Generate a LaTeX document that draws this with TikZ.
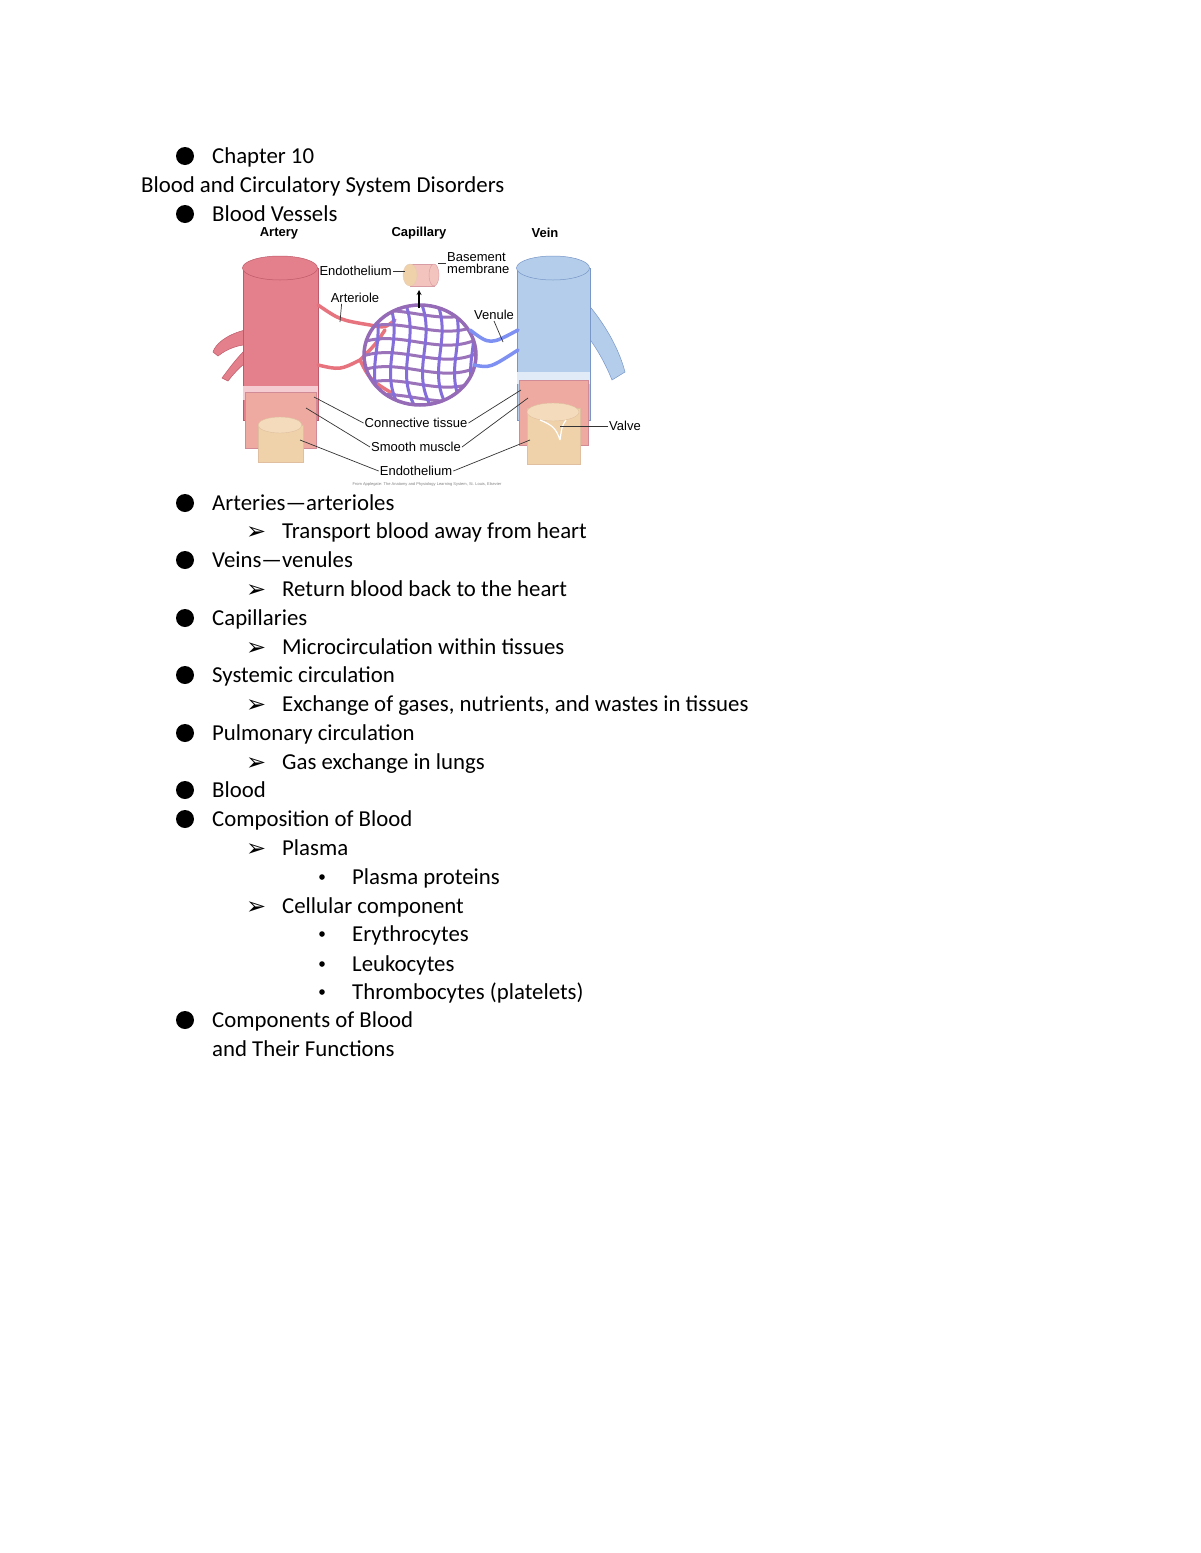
\documentclass[tikz,border=0pt]{standalone}
\usepackage{fontspec}
\setmainfont{Carlito}
\newfontfamily\lab{Liberation Sans}
\newfontfamily\sym{DejaVu Sans}
\definecolor{artc}{RGB}{228,128,140}
\definecolor{artd}{RGB}{190,90,105}
\definecolor{veic}{RGB}{180,205,235}
\definecolor{veid}{RGB}{120,150,200}
\definecolor{musc}{RGB}{238,170,160}
\definecolor{endo}{RGB}{240,210,170}
\definecolor{netp}{RGB}{130,80,170}
\begin{document}
\begin{tikzpicture}[x=1pt,y=-1pt,
 txt/.style={anchor=base west,inner sep=0pt,font=\fontsize{22.8}{25}\selectfont},
 lbl/.style={inner sep=1pt,font=\lab\fontsize{13}{14}\selectfont},
 hd/.style={inner sep=1pt,font=\lab\bfseries\fontsize{13}{14}\selectfont},
 ldr/.style={black!80,line width=0.7pt},
 art/.style={fill=artc,draw=artd,line width=0.5pt},
 vei/.style={fill=veic,draw=veid,line width=0.5pt},
 vess/.style={line width=3.5pt,line cap=round}]
\useasboundingbox (0,0) rectangle (1200,1553);
\fill[white] (0,0) rectangle (1200,1553);
% bullets
\foreach \y/\n in {156/b1,214/b2,503/b3,560/b4,618/b5,675/b6,733/b7,790/b8,819/b9,1020/b10}
  \fill (185,\y) circle (9) coordinate (\n);
\foreach \y/\t in {156/Chapter 10,214/Blood Vessels,503/Arteries---arterioles,560/Veins---venules,618/Capillaries,675/Systemic circulation,733/Pulmonary circulation,790/Blood,819/Composition of Blood,1020/Components of Blood,1049/and Their Functions}
  \node[txt] at (212,\y+7) {\t};
\node[txt] (title) at (141,192) {Blood and Circulatory System Disorders};
\foreach \y/\t in {531/Transport blood away from heart,589/Return blood back to the heart,647/Microcirculation within tissues,704/{Exchange of gases, nutrients, and wastes in tissues},762/Gas exchange in lungs,848/Plasma,906/Cellular component}{
  \node[txt] at (282,\y+7) {\t};
  \node[anchor=base west,inner sep=0pt,font=\sym\fontsize{24}{25}\selectfont] at (246,\y+8) {➢};}
\foreach \y/\t in {877/Plasma proteins,934/Erythrocytes,964/Leukocytes,992/Thrombocytes (platelets)}{
  \fill (322,\y) circle (2.8);
  \node[txt] at (352,\y+7) {\t};}
% ---- figure ----
\node[hd] (hA) at (279,233) {Artery};
\node[hd] (hC) at (419,233) {Capillary};
\node[hd] (hV) at (545,233) {Vein};
% artery branch
\draw[art] (245,330) .. controls (225,335) and (215,345) .. (213,352) -- (218,356) .. controls (228,348) and (240,345) .. (245,345) -- cycle;
\draw[art] (245,350) .. controls (235,360) and (228,370) .. (222,378) -- (228,381) .. controls (235,372) and (242,365) .. (247,362) -- cycle;
% artery body
\draw[art] (243,268) -- (243,420) -- (318,420) -- (318,268);
\draw[art] (280,268) ellipse (37.5 and 12);
\fill[white!60!artc] (243,386) rectangle (318,400);
\draw[fill=musc,draw=artd!70] (245,392) rectangle (316,448);
\draw[fill=endo,draw=brown!50] (258,425) rectangle (303,462);
\draw[fill=endo!80!white,draw=brown!50] (280,425) ellipse (22 and 8);
% vein body
\draw[vei] (575,290) .. controls (600,315) and (618,345) .. (625,372) -- (612,380) .. controls (602,355) and (588,335) .. (578,325) -- cycle;
\draw[vei] (517,268) -- (517,420) -- (590,420) -- (590,268);
\draw[vei] (553,268) ellipse (36.5 and 12);
\fill[white!60!veic] (517,372) rectangle (590,384);
\draw[fill=musc,draw=artd!70] (519,380) rectangle (588,445);
\draw[fill=endo,draw=brown!50] (527,408) rectangle (580,464);
\draw[fill=endo!80!white,draw=brown!50] (553,412) ellipse (26 and 9);
\draw[white,line width=1.2pt] (540,420) .. controls (552,425) and (556,428) .. (560,440) (566,420) .. controls (562,426) .. (560,440);
% capillary network
\draw[vess,artc!90!red] (318,305) .. controls (340,320) .. (370,325) .. controls (385,328) .. (395,320);
\draw[vess,artc!90!red] (318,365) .. controls (340,370) .. (360,360) .. controls (375,345) .. (385,330);
\draw[vess,artc!90!red] (360,360) .. controls (370,380) .. (395,395);
\begin{scope}
\clip (420,355) ellipse (56 and 50);
\foreach \a in {0,...,6}
  \draw[vess,line width=3pt,netp!80] (360,315+14*\a) .. controls (400,300+14*\a) and (440,330+14*\a) .. (480,310+14*\a);
\foreach \a in {0,...,6}
  \draw[vess,line width=3pt,netp!60!blue!70] (372+16*\a,300) .. controls (390+16*\a,340) and (360+16*\a,370) .. (385+16*\a,410);
\end{scope}
\draw[vess,netp!85] (420,355) ellipse (56 and 50);
\draw[vess,veic!70!blue] (470,330) .. controls (490,345) .. (518,330);
\draw[vess,veic!70!blue] (474,365) .. controls (490,368) .. (518,350);
% capillary cross section
\draw[fill=musc!70,draw=artd!60] (410,264) rectangle (434,286);
\draw[fill=musc!70,draw=artd!60] (434,275) ellipse (5 and 11);
\draw[fill=endo,draw=brown!40] (410,275) ellipse (7 and 11);
\coordinate (csec) at (419,290);
\coordinate (net) at (419,308);
\draw[-stealth,line width=1.2pt] (net) -- (csec);
% labels
\node[lbl,anchor=east] (lEnd1) at (393,271) {Endothelium};
\draw[ldr] (lEnd1.east) -- (405,271);
\node[lbl,anchor=west] (lBas) at (446,263) {\shortstack[l]{Basement\\membrane}};
\draw[ldr] (lBas.west) -- (438,263);
\node[lbl] (lArt) at (355,298) {Arteriole};
\draw[ldr] (lArt.south west) ++(12,0) -- (340,322);
\node[lbl] (lVen) at (494,315) {Venule};
\draw[ldr] (lVen.south) -- (503,342);
\node[lbl] (lCT) at (416,423) {Connective tissue};
\node[lbl] (lSM) at (416,447) {Smooth muscle};
\node[lbl] (lEn) at (416,471) {Endothelium};
\node[lbl,anchor=west] (lVal) at (608,426) {Valve};
\draw[ldr] (lVal.west) -- (560,426);
\draw[ldr] (lCT.west) -- (314,397);
\draw[ldr] (lSM.west) -- (306,408);
\draw[ldr] (lEn.west) -- (300,440);
\draw[ldr] (lCT.east) -- (521,390);
\draw[ldr] (lSM.east) -- (528,398);
\draw[ldr] (lEn.east) -- (530,440);
\node[inner sep=0pt,font=\lab\fontsize{4}{5}\selectfont,gray] (cred) at (427,484) {From Applegate: The Anatomy and Physiology Learning System, St. Louis, Elsevier};
\end{tikzpicture}
\end{document}
